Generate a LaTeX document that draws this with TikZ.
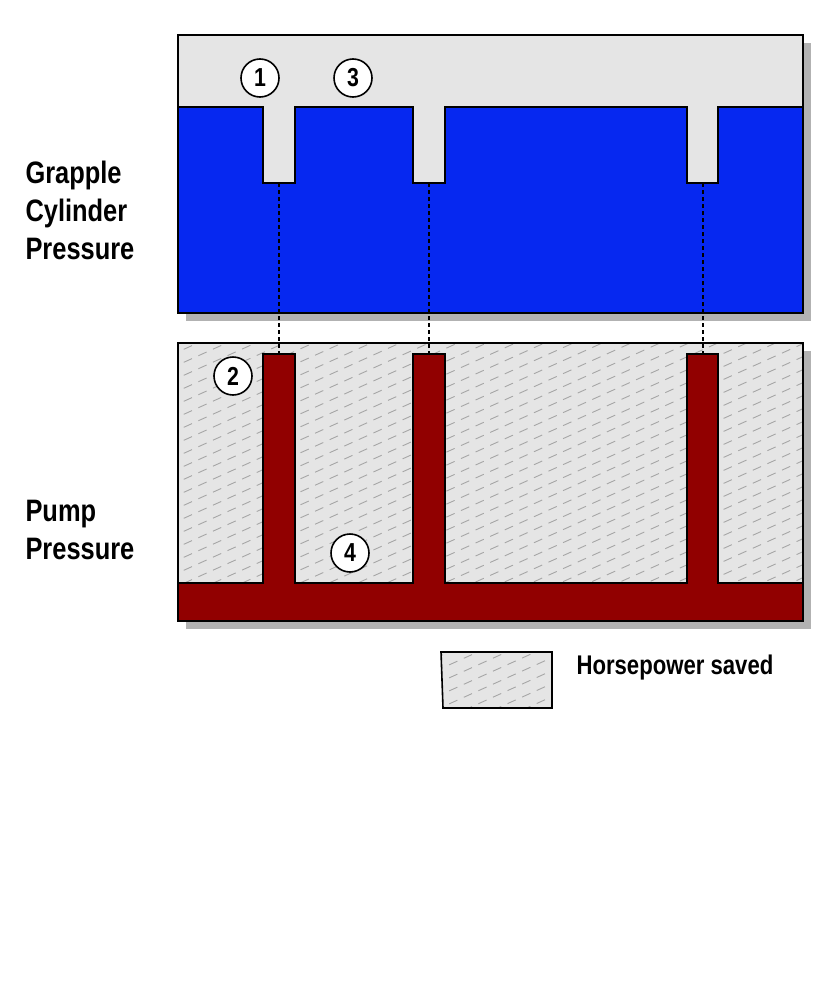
\documentclass[tikz,border=0pt]{standalone}
\usepackage{fontspec}
\setmainfont{Liberation Sans}[FakeStretch=0.82]
\begin{document}
\begin{tikzpicture}[x=1pt,y=-1pt,
  box/.style={draw=black,line width=2.2pt},
  num/.style={circle,draw=black,line width=1.6pt,fill=white,minimum size=38pt,inner sep=0pt,font=\fontsize{26}{26}\selectfont\bfseries},
  lbl/.style={font=\fontsize{31}{38}\selectfont\bfseries,align=left,anchor=west},
  hatchl/.style={draw=gray!70,line width=0.9pt,dash pattern=on 9pt off 7pt},
  guide/.style={draw=black,line width=1.3pt,dash pattern=on 4pt off 3pt}]
\useasboundingbox (0,0) rectangle (837,982);
\definecolor{bl}{RGB}{6,40,240}
\definecolor{rd}{RGB}{145,0,0}
\definecolor{lg}{RGB}{229,229,229}
% shadows
\fill[gray!60] (186,43) rectangle (811,321);
\fill[gray!60] (186,351) rectangle (811,629);
% top box
\fill[lg] (178,35) rectangle (803,313);
\draw[box,fill=bl] (178,107) -- (263,107) -- (263,183) -- (295,183) -- (295,107) -- (413,107) -- (413,183) -- (445,183) -- (445,107) -- (687,107) -- (687,183) -- (718,183) -- (718,107) -- (803,107) -- (803,313) -- (178,313) -- cycle;
\draw[box] (178,35) rectangle (803,313);
% bottom box
\fill[lg] (178,343) rectangle (803,621);
\begin{scope}
\clip (178,343) rectangle (803,621);
\foreach \i in {0,...,75} {
  \draw[hatchl] (140,343+\i*13) -- ++(800,-360);
}
\end{scope}
\draw[box,fill=rd] (178,583) -- (263,583) -- (263,354) -- (295,354) -- (295,583) -- (413,583) -- (413,354) -- (445,354) -- (445,583) -- (687,583) -- (687,354) -- (718,354) -- (718,583) -- (803,583) -- (803,621) -- (178,621) -- cycle;
\draw[box] (178,343) rectangle (803,621);
% guides
\coordinate (a1) at (279,183); \coordinate (b1) at (279,354);
\coordinate (a2) at (429,183); \coordinate (b2) at (429,354);
\coordinate (a3) at (703,183); \coordinate (b3) at (703,354);
\draw[guide] (a1) -- (b1); \draw[guide] (a2) -- (b2); \draw[guide] (a3) -- (b3);
% numbers
\node[num] (n1) at (260,78) {1};
\node[num] (n3) at (353,78) {3};
\node[num] (n2) at (233,376) {2};
\node[num] (n4) at (350,553) {4};
% labels
\node[lbl] (g) at (22,210) {Grapple\\Cylinder\\Pressure};
\node[lbl] (p) at (22,530) {Pump\\Pressure};
% legend
\begin{scope}
\clip (441,652) -- (552,652) -- (552,708) -- (443,708) -- cycle;
\fill[lg] (441,652) rectangle (552,708);
\foreach \i in {0,...,12} {
  \draw[hatchl] (420,652+\i*13) -- ++(200,-90);
}
\end{scope}
\draw[line width=1.6pt] (441,652) -- (552,652) -- (552,708) -- (443,708) -- cycle;
\node[anchor=west,font=\fontsize{27}{30}\selectfont\bfseries] (leg) at (573,668) {Horsepower saved};
\end{tikzpicture}
\end{document}
